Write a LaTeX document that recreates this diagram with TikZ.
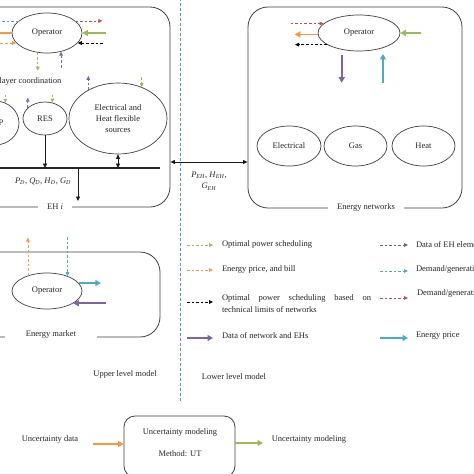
\documentclass[tikz,border=0pt]{standalone}
\usepackage{fontspec}
\setmainfont{Liberation Serif}
\usetikzlibrary{shapes.geometric,arrows.meta}
\definecolor{cgreen}{HTML}{9BBB59}
\definecolor{corange}{HTML}{F79646}
\definecolor{cpurple}{HTML}{8064A2}
\definecolor{cteal}{HTML}{4BACC6}
\definecolor{cred}{HTML}{C0504D}
\definecolor{cdiv}{HTML}{5F8FC0}
\definecolor{cgray}{HTML}{404040}
\definecolor{cdata}{HTML}{6A5C88}
\newcommand\iv[2]{\textit{#1}\textsubscript{\textit{#2}}}
\begin{document}
\begin{tikzpicture}[x=1pt,y=-1pt,
 every node/.style={font=\fontsize{8.5}{11.3}\selectfont, text=black!85},
 oval/.style={ellipse, draw=cgray, line width=0.7pt, inner sep=0pt},
 boxfr/.style={draw=cgray, line width=0.8pt, rounded corners=20pt, inner sep=0pt},
 lab/.style={fill=white, inner ysep=3pt},
 tipd/.style={-{Triangle[length=4pt,width=3.6pt]}, dash pattern=on 2.6pt off 2pt, line width=0.7pt},
 tipt/.style={-{Triangle[length=5.5pt,width=6pt]}, line width=1.8pt},
 tipk/.style={-{Triangle[length=4.5pt,width=4pt]}, line width=0.8pt, draw=black!90},
 dbl/.style={{Triangle[length=4.5pt,width=4pt]}-{Triangle[length=4.5pt,width=4pt]}, line width=0.9pt, draw=black!90},
]
\useasboundingbox (0,0) rectangle (474,474);
\clip (0,0) rectangle (474,474);
\fill[white] (0,0) rectangle (474,474);

% frames
\node[boxfr, minimum width=200pt, minimum height=200pt] (ehbox) at (70,107) {};
\node[boxfr, minimum width=214pt, minimum height=201pt] (enbox) at (355,107.5) {};
\node[boxfr, minimum width=200pt, minimum height=85pt] (embox) at (60,294.5) {};
\node[boxfr, rounded corners=11pt, minimum width=111pt, minimum height=61pt] (ubox) at (179.5,446.5) {};
\node[lab, inner xsep=9pt] (ehlab) at (55,207) {EH \textit{i}};
\node[lab, inner xsep=9pt] (enlab) at (366,207) {Energy networks};
\node[lab, inner xsep=21pt, inner ysep=4pt] (emlab) at (51,334) {Energy market};

% divider
\coordinate (divT) at (180,-2);
\coordinate (divB) at (180,403);
\draw[cdiv, line width=0.7pt, dash pattern=on 3pt off 2pt] (divT) -- (divB);

% ellipses
\node[oval, minimum width=70pt, minimum height=40pt] (op1) at (47,33) {Operator};
\node[oval, minimum width=82pt, minimum height=36pt] (op2) at (359,33) {Operator};
\node[oval, minimum width=70pt, minimum height=36pt] (op3) at (47,291) {Operator};
\node[oval, minimum width=48pt, minimum height=44pt] (chp) at (-5,123) {CHP};
\node[oval, minimum width=44pt, minimum height=33pt] (res) at (45,118.5) {RES};
\node[oval, minimum width=98pt, minimum height=71pt, align=center] (flex) at (118,118.5) {Electrical and\\Heat flexible\\sources};
\node[oval, minimum width=64pt, minimum height=40pt] (elec) at (289,146) {Electrical};
\node[oval, minimum width=63pt, minimum height=40pt] (gas) at (355.5,146) {Gas};
\node[oval, minimum width=63pt, minimum height=40pt] (heat) at (423.5,146) {Heat};

% operator (EH) arrows
\draw[cteal, dash pattern=on 2.6pt off 2pt, line width=0.7pt] (op1.157) -- ++(-30,0);
\draw[tipt, corange] (op1.180) -- ++(-25,0);
\draw[tipd, corange] (op1.198) ++(-25,0) -- (op1.198);
\draw[tipd, cred] (op1.23) -- ++(27,0);
\draw[tipt, cgreen] (op1.0) ++(24,0) -- (op1.0);
\draw[tipd, black] (op1.342) ++(25,0) -- (op1.342);
\draw[tipd, cgreen] (op1.245) -- ++(0,18);
\draw[tipd, cpurple] (op1.307) ++(0,16) -- (op1.307);

\node[anchor=east] (coord) at (65,81) {Bilayer coordination};

% flexible sources / CHP / RES arrows
\draw[tipd, cpurple] (flex.136.9) -- ++(0,-14);
\draw[tipd, cgreen] (flex.53.7) ++(0,-10) -- (flex.53.7);
\draw[tipd, cgreen] (chp.63.4) ++(0,-8) -- (chp.63.4);
\draw[tipd, cpurple] (res.148.3) -- ++(0,-10);
\draw[tipd, cgreen] (res.65.8) ++(0,-8) -- (res.65.8);

% bus
\coordinate (busL) at (-10,168);
\coordinate (busR) at (160,168);
\draw[line width=1.1pt, black!85] (busL) -- (busR);
\draw[tipk] (res.south) -- (res.south |- busL);
\draw[dbl] (flex.south) -- (flex.south |- busL);
\coordinate (busD) at (78,168);
\coordinate (ehout) at (78,201);
\draw[tipk] (busD) -- (ehout);
\node (pd) at (43,181) {\iv{P}{D}, \iv{Q}{D}, \iv{H}{D}, \iv{G}{D}};

% EH <-> networks
\draw[dbl] (ehbox.east |- 0,162) -- (enbox.west |- 0,162);
\node[align=center] (peh) at (209,181) {\iv{P}{EH}, \iv{H}{EH},\\ \iv{G}{EH}};

% network operator arrows
\draw[tipd, cred] (op2.165.8) ++(-33,0) -- (op2.165.8);
\draw[tipt, corange] (op2.182) -- ++(-23,0);
\draw[tipd, black] (op2.200) -- ++(-32,0);
\draw[tipt, cgreen] (op2.0) ++(21,0) -- (op2.0);
\draw[tipt, cpurple, shorten <=5pt] (op2.224) -- ++(0,33);
\draw[tipt, cteal, shorten >=6pt] (op2.328.7) ++(0,35) -- (op2.328.7);

% market operator arrows
\draw[tipd, corange] (op3.141.5) -- ++(0,-38);
\draw[tipd, cteal] (op3.36.5) ++(0,-39) -- (op3.36.5);
\draw[tipt, cteal] (op3.14.3) -- ++(22,0);
\draw[tipt, cpurple] (op3.335.3) ++(33,0) -- (op3.335.3);

\node (upper) at (125,374) {Upper level model};
\node (lower) at (234,377) {Lower level model};

% legend
\coordinate (l1) at (187,245);
\coordinate (l2) at (187,270);
\coordinate (l3) at (187,302);
\coordinate (l4) at (187,338);
\draw[tipd, cgreen] (l1) -- ++(26,0);
\draw[tipd, corange] (l2) -- ++(26,0);
\draw[tipd, black] (l3) -- ++(26,0);
\draw[tipt, cpurple] (l4) -- ++(26,0);
\node[anchor=west] (t1) at (218.5,244.5) {Optimal power scheduling};
\node[anchor=west] (t2) at (218.5,269.5) {Energy price, and bill};
\node[anchor=west, text width=149pt, align=justify] (t3) at (218.5,303.5) {Optimal power scheduling based on\linebreak technical limits of networks};
\node[anchor=west] (t4) at (218.5,336) {Data of network and EHs};

\coordinate (r1) at (380,245);
\coordinate (r2) at (380,271);
\coordinate (r3) at (380,298);
\coordinate (r4) at (380,338);
\draw[tipd, cdata] (r1) -- ++(28,0);
\draw[tipd, cteal] (r2) -- ++(28,0);
\draw[tipd, cred] (r3) -- ++(28,0);
\draw[tipt, cteal] (r4) -- ++(28,0);
\node[anchor=west] (s1) at (412.5,244.5) {Data of EH elements};
\node[anchor=west] (s2) at (412.5,269.5) {Demand/generation of EHs};
\node[anchor=west] (s3) at (413.5,293.5) {Demand/generation of networks};
\node[anchor=west] (s4) at (412.5,336) {Energy price};

% uncertainty
\node (udata) at (50,439) {Uncertainty data};
\coordinate (uin) at (93,444);
\draw[tipt, corange] (uin) -- (uin -| ubox.west);
\node (ut1) at (180,432) {Uncertainty modeling};
\node (ut2) at (180,454) {Method: UT};
\coordinate (uout) at (263,443);
\draw[tipt, cgreen] (uout -| ubox.east) -- (uout);
\node (umod) at (309,439) {Uncertainty modeling};
\end{tikzpicture}
\end{document}
